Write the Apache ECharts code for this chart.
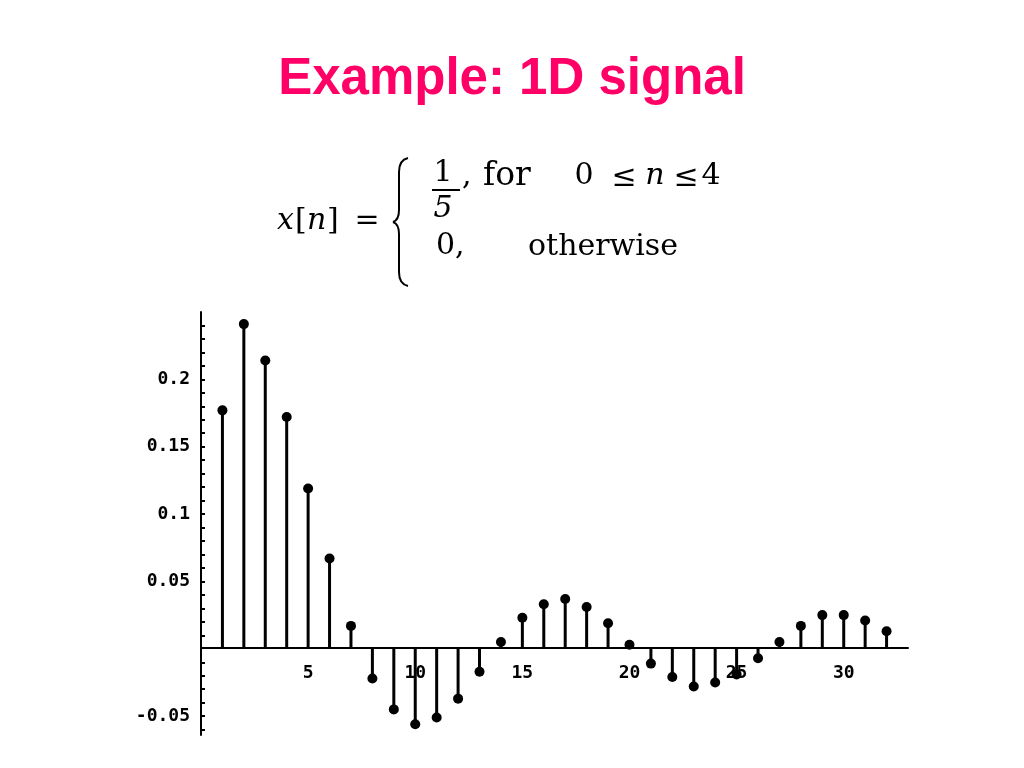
<!DOCTYPE html>
<html>
<head>
<meta charset="utf-8">
<script src="https://cdn.jsdelivr.net/npm/echarts@6/dist/echarts.min.js"></script>
<style>
html,body{margin:0;padding:0;background:#fff;}
#chart{width:1024px;height:768px;}
</style>
</head>
<body>
<div id="chart"></div>
<script>
// sample index n
var nValues = [1,2,3,4,5,6,7,8,9,10,11,12,13,14,15,16,17,18,19,20,21,22,23,24,25,26,27,28,29,30,31,32];
// signal values
var signalValues = [0.177,0.241,0.214,0.172,0.119,0.067,0.017,-0.022,-0.045,-0.056,-0.051,-0.037,-0.017,0.005,0.023,0.033,0.037,0.031,0.019,0.003,-0.011,-0.021,-0.028,-0.025,-0.019,-0.007,0.005,0.017,0.025,0.025,0.021,0.013];
// axis ticks and labels
var xTickLabels = [5,10,15,20,25,30];
var yTickValues = [-0.06,-0.05,-0.04,-0.03,-0.02,-0.01,0.01,0.02,0.03,0.04,0.05,0.06,0.07,0.08,0.09,0.1,0.11,0.12,0.13,0.14,0.15,0.16,0.17,0.18,0.19,0.2,0.21,0.22,0.23,0.24];
var yTickLabels = [-0.05,0.05,0.1,0.15,0.2];

var pairs = nValues.map(function(n,i){return [n, signalValues[i]];});

var chart = echarts.init(document.getElementById('chart'), null, {renderer:'canvas'});
var serif = 'DejaVu Serif';
function txt(s, x, y, opts){
  opts = opts || {};
  return {type:'text', x:x, y:y, style:{text:s, fill:'#000', font:(opts.italic?'italic ':'') + (opts.size||30) + 'px "' + serif + '"', textAlign:opts.align||'left', textVerticalAlign:'middle'}};
}
function bez(x1,y1,cx,cy,x2,y2){
  return {type:'bezierCurve', shape:{x1:x1,y1:y1,cpx1:cx,cpy1:cy,x2:x2,y2:y2}, style:{stroke:'#000', lineWidth:2, fill:null}};
}
function seg(x1,y1,x2,y2){
  return {type:'line', shape:{x1:x1,y1:y1,x2:x2,y2:y2}, style:{stroke:'#000', lineWidth:2}};
}
var gridBottom = 33;
chart.setOption({
  animation:false,
  backgroundColor:'#fff',
  grid:{left:201, right:116, top:312, bottom:gridBottom, containLabel:false},
  xAxis:{
    type:'value', min:0, max:33,
    axisLine:{onZero:false, lineStyle:{color:'#000', width:2}},
    axisTick:{show:false},
    splitLine:{show:false},
    axisLabel:{customValues:xTickLabels, color:'#000', fontFamily:'DejaVu Sans Mono', fontWeight:'bold', fontSize:18, margin:16}
  },
  yAxis:{
    type:'value', min:-0.064, max:0.25,
    axisLine:{show:true, onZero:false, lineStyle:{color:'#000', width:2}},
    axisTick:{show:true, inside:true, length:4, customValues:yTickValues, lineStyle:{color:'#000', width:2}},
    splitLine:{show:false},
    axisLabel:{customValues:yTickLabels, color:'#000', fontFamily:'DejaVu Sans Mono', fontWeight:'bold', fontSize:18, margin:11,
      formatter:function(v){return String(Math.round(v*100)/100);}}
  },
  series:[
    {type:'bar', data:pairs, barWidth:3, itemStyle:{color:'#000', opacity:1}, silent:true},
    {type:'scatter', data:pairs, symbol:'circle', symbolSize:10, itemStyle:{color:'#000', opacity:1}, silent:true}
  ],
  graphic:[
    {type:'text', x:512, y:80, style:{text:'Example: 1D signal', fill:'#FF0066', font:'bold 51px "Liberation Sans"', textAlign:'center', textVerticalAlign:'middle'}},
    txt('x', 277, 221, {italic:true}),
    txt('[', 295, 221),
    txt('n', 307, 221, {italic:true}),
    txt(']', 327, 221),
    txt('=', 367, 221, {align:'center'}),
    bez(408,158,399,160,399,172),
    seg(399,172,399,210),
    bez(399,210,399,220,393,222),
    bez(393,222,399,224,399,234),
    seg(399,234,399,272),
    bez(399,272,399,284,408,286),
    txt('1', 443, 173, {align:'center'}),
    seg(432,190,460,190),
    txt('5', 443, 209, {align:'center', italic:true}),
    txt(',', 462, 176),
    txt('for', 483, 176, {size:33}),
    txt('0', 584, 176, {align:'center'}),
    txt('\u2264', 624, 178, {align:'center'}),
    txt('n', 655, 176, {align:'center', italic:true}),
    txt('\u2264', 686, 178, {align:'center'}),
    txt('4', 711, 176, {align:'center'}),
    txt('0,', 436, 246),
    txt('otherwise', 603, 247, {align:'center'})
  ]
});
// move the x axis (line and labels) up to y = 0
var zeroY = chart.convertToPixel({yAxisIndex:0}, 0);
chart.setOption({xAxis:{offset:-(768 - gridBottom - zeroY)}});
</script>
</body>
</html>
